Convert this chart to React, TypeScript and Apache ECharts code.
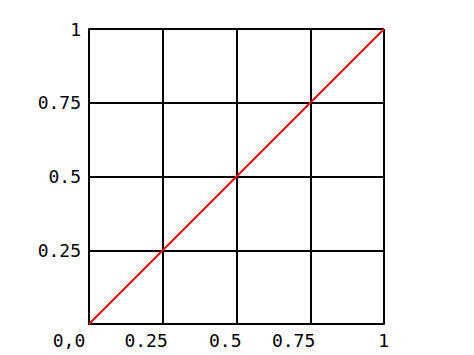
import React, { useEffect, useRef } from "react";
import * as echarts from "echarts";

const xValues = [0, 1];
const yValues = [0, 1];
const tickValues = [0, 0.25, 0.5, 0.75, 1];
const tickLabels = ["0,0", "0.25", "0.5", "0.75", "1"];

const FONT = "DejaVu Sans Mono";
const FS = 18;

export default function App() {
  const ref = useRef<HTMLDivElement>(null);
  useEffect(() => {
    if (!ref.current) return;
    const chart = echarts.init(ref.current, null, { renderer: "svg" });
    const labelFor = (v: number) => {
      const i = tickValues.findIndex((t) => Math.abs(t - v) < 1e-9);
      if (i <= 0) return "";
      return tickLabels[i];
    };
    const lineStyle = { color: "#000", width: 2 };
    chart.setOption({
      animation: false,
      grid: { left: 89, top: 29, width: 295, height: 295, show: false },
      xAxis: {
        type: "value",
        min: 0,
        max: 1,
        interval: 0.25,
        axisLine: { show: true, lineStyle },
        axisTick: { show: false },
        splitLine: { show: true, lineStyle },
        axisLabel: {
          formatter: labelFor,
          align: "right",
          padding: [0, -5, 0, 0],
          margin: 7,
          color: "#000",
          fontFamily: FONT,
          fontSize: FS,
        },
      },
      yAxis: {
        type: "value",
        min: 0,
        max: 1,
        interval: 0.25,
        axisLine: { show: true, lineStyle },
        axisTick: { show: false },
        splitLine: { show: true, lineStyle },
        axisLabel: {
          formatter: labelFor,
          margin: 8,
          color: "#000",
          fontFamily: FONT,
          fontSize: FS,
        },
      },
      graphic: [
        {
          type: "text",
          x: 69,
          y: 331,
          style: {
            text: tickLabels[0],
            fill: "#000",
            font: `${FS}px "${FONT}"`,
            textAlign: "center",
            textVerticalAlign: "top",
          },
        },
      ],
      series: [
        {
          type: "line",
          data: xValues.map((x, i) => [x, yValues[i]]),
          symbol: "none",
          lineStyle: { color: "#ff0000", width: 2 },
          z: 5,
        },
      ],
    });
    return () => chart.dispose();
  }, []);
  return (
    <div
      ref={ref}
      style={{ position: "absolute", left: 0, top: 0, width: 474, height: 355 }}
    />
  );
}
